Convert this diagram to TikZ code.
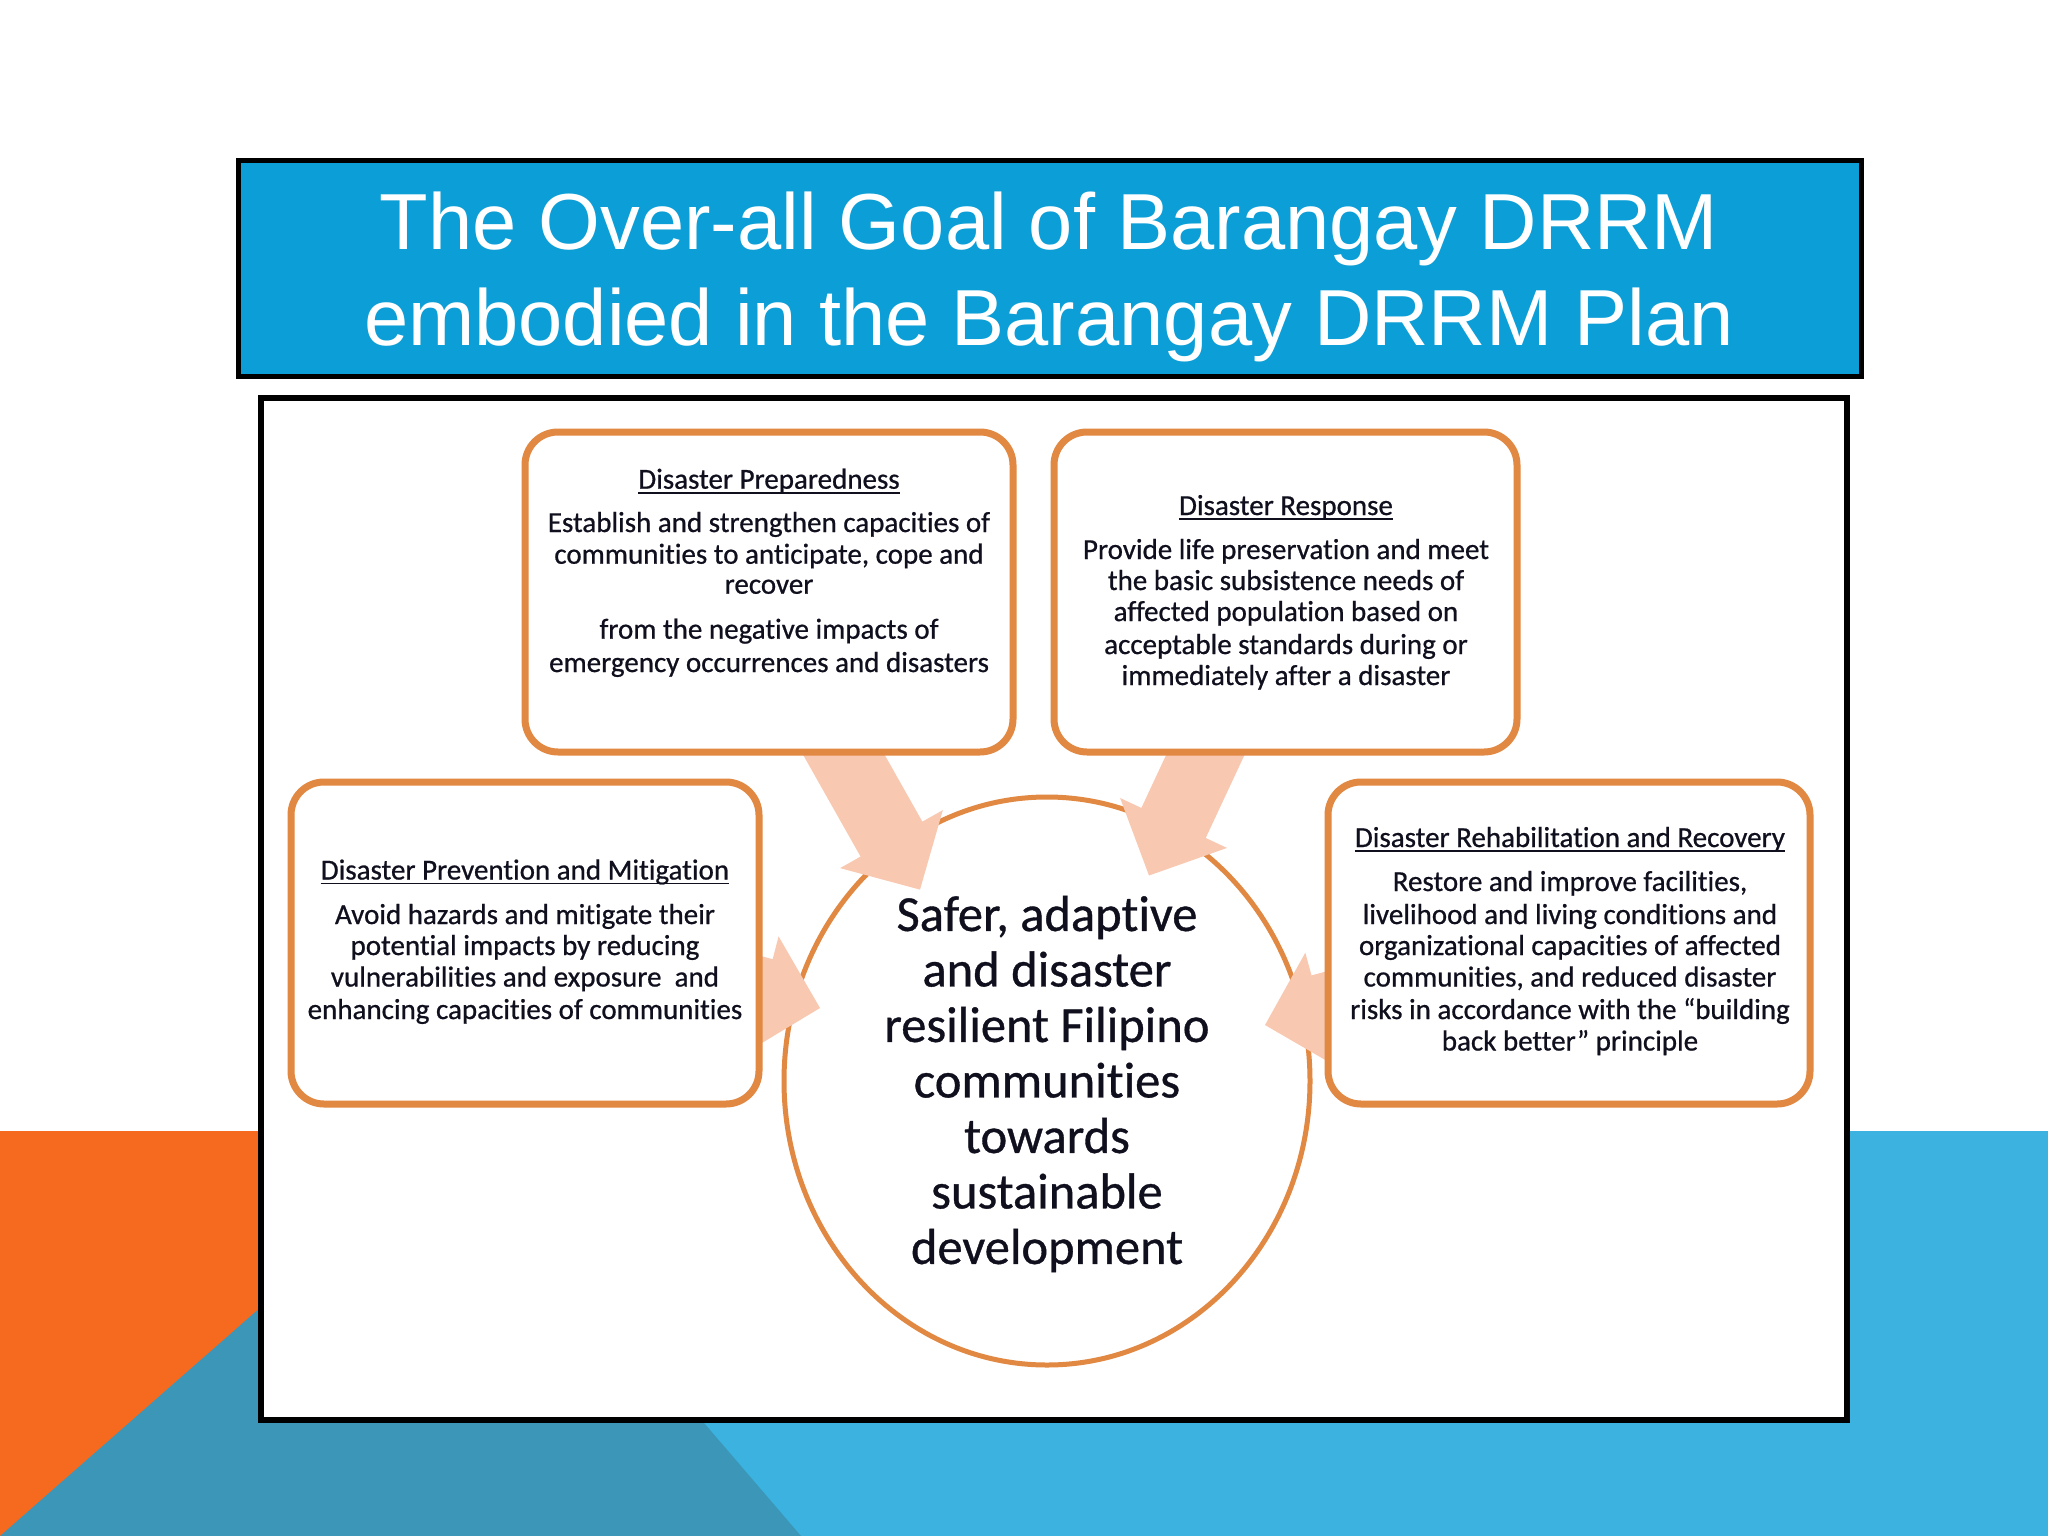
\documentclass[tikz,border=0pt]{standalone}
\usepackage{fontspec}
\setmainfont{Carlito}[Ligatures={NoCommon},FakeBold=0.7]
\newfontfamily\titlefont{Liberation Sans}
\usetikzlibrary{calc,shapes.geometric}
\definecolor{bgorange}{RGB}{246,106,31}
\definecolor{bgteal}{RGB}{60,150,183}
\definecolor{bgblue}{RGB}{59,178,223}
\definecolor{titleblue}{RGB}{12,158,214}
\definecolor{boxorange}{RGB}{225,136,66}
\definecolor{arrowpink}{RGB}{248,200,176}
\definecolor{txt}{RGB}{15,15,30}
\newcommand\blockarrow[3]{%
  \coordinate (#3b) at ($(#2)!58pt!(#1)$);
  \fill[arrowpink] ($(#1)!35.5pt!90:(#2)$) -- ($(#3b)!35.5pt!90:(#2)$) -- ($(#3b)!59pt!90:(#2)$) -- (#2)
    -- ($(#3b)!59pt!-90:(#2)$) -- ($(#3b)!35.5pt!-90:(#2)$) -- ($(#1)!35.5pt!-90:(#2)$) -- cycle;}
\begin{document}
\begin{tikzpicture}[x=1pt,y=-1pt,
  framebox/.style={draw=black,line width=5.5pt,fill=white,inner sep=0pt,outer sep=0pt},
  titlebox/.style={draw=black,line width=5pt,fill=titleblue,inner sep=0pt,outer sep=0pt},
  titletxt/.style={anchor=base,inner sep=0pt,text=white,font=\titlefont\fontsize{79.5}{95}\selectfont},
  obox/.style={draw=boxorange,line width=7pt,fill=white,rounded corners=33pt,inner sep=0pt,outer sep=0pt},
  goalshape/.style={draw=boxorange,line width=5pt,ellipse,inner sep=0pt,outer sep=0pt},
  bt/.style={anchor=base,inner sep=0pt,text=txt,font=\fontsize{29}{31.6}\selectfont},
  ul/.style={draw=txt,line width=1.8pt},
  goaltxt/.style={align=center,inner sep=0pt,text=txt,font=\fontsize{50.5}{55.5}\selectfont}]
\useasboundingbox (0,0) rectangle (2048,1536);
% background
\fill[white] (0,0) rectangle (2048,1536);
\fill[bgblue] (600,1131) rectangle (2048,1536);
\fill[bgorange] (0,1131) rectangle (600,1536);
\fill[bgteal] (0,1536) -- (457,1135) -- (801,1536) -- cycle;
% frame and title
\node[framebox,minimum width=1586pt,minimum height=1022pt] (frame) at (1054,909) {};
\node[titlebox,minimum width=1623pt,minimum height=215pt] (title) at (1049.5,268.5) {};
\node[titletxt] (title1) at (1049,249) {The Over-all Goal of Barangay DRRM};
\node[titletxt] (title2) at (1049,345) {embodied in the Barangay DRRM Plan};
% central goal
\node[goalshape,minimum width=526pt,minimum height=568pt] (goal) at (1047,1081) {};
% block arrows
\coordinate (a1t) at (792,663);   \coordinate (a1p) at (920,889.6);
\coordinate (a2t) at (1259,640);  \coordinate (a2p) at (1149,875.5);
\coordinate (a3t) at (626,958);   \coordinate (a3p) at (820,1008);
\coordinate (a4t) at (1458,972);  \coordinate (a4p) at (1265,1025);
\blockarrow{a1t}{a1p}{a1}
\blockarrow{a2t}{a2p}{a2}
\blockarrow{a3t}{a3p}{a3}
\blockarrow{a4t}{a4p}{a4}
% boxes
\node[obox,minimum width=488pt,minimum height=320pt] (dp) at (769,592) {};
\node[obox,minimum width=463pt,minimum height=320pt] (dr) at (1285.5,592) {};
\node[obox,minimum width=468pt,minimum height=322pt] (dpm) at (525,943) {};
\node[obox,minimum width=482pt,minimum height=322pt] (drr) at (1569,943) {};
% Disaster Preparedness
\node[bt] (dp0) at (769,488.7) {Disaster Preparedness};
\draw[ul] ([yshift=-4pt]dp0.base west) -- ([yshift=-4pt]dp0.base east);
\node[bt] (dp1) at (769,532) {Establish and strengthen capacities of};
\node[bt] (dp2) at (769,563.7) {communities to anticipate, cope and};
\node[bt] (dp3) at (769,593.7) {recover};
\node[bt] (dp4) at (769,638.7) {from the negative impacts of};
\node[bt] (dp5) at (769,672) {emergency occurrences and disasters};
% Disaster Response
\node[bt] (dr0) at (1286,515) {Disaster Response};
\draw[ul] ([yshift=-4pt]dr0.base west) -- ([yshift=-4pt]dr0.base east);
\node[bt] (dr1) at (1286,559) {Provide life preservation and meet};
\node[bt] (dr2) at (1286,590) {the basic subsistence needs of};
\node[bt] (dr3) at (1286,621) {affected population based on};
\node[bt] (dr4) at (1286,654) {acceptable standards during or};
\node[bt] (dr5) at (1286,685) {immediately after a disaster};
% Disaster Prevention and Mitigation
\node[bt] (dpm0) at (525,879.5) {Disaster Prevention and Mitigation};
\draw[ul] ([yshift=-4pt]dpm0.base west) -- ([yshift=-4pt]dpm0.base east);
\node[bt] (dpm1) at (525,924) {Avoid hazards and mitigate their};
\node[bt] (dpm2) at (525,955) {potential impacts by reducing};
\node[bt] (dpm3) at (525,986.5) {vulnerabilities and exposure \ and};
\node[bt] (dpm4) at (525,1019) {enhancing capacities of communities};
% Disaster Rehabilitation and Recovery
\node[bt] (drr0) at (1570,847) {Disaster Rehabilitation and Recovery};
\draw[ul] ([yshift=-4pt]drr0.base west) -- ([yshift=-4pt]drr0.base east);
\node[bt] (drr1) at (1570,891) {Restore and improve facilities,};
\node[bt] (drr2) at (1570,924) {livelihood and living conditions and};
\node[bt] (drr3) at (1570,955) {organizational capacities of affected};
\node[bt] (drr4) at (1570,986.5) {communities, and reduced disaster};
\node[bt] (drr5) at (1570,1019) {risks in accordance with the “building};
\node[bt] (drr6) at (1570,1050.5) {back better” principle};
% goal text
\node[goaltxt] (goaltext) at (1047,1084) {Safer, adaptive\\and disaster\\resilient Filipino\\communities\\towards\\sustainable\\development};
\end{tikzpicture}
\end{document}
